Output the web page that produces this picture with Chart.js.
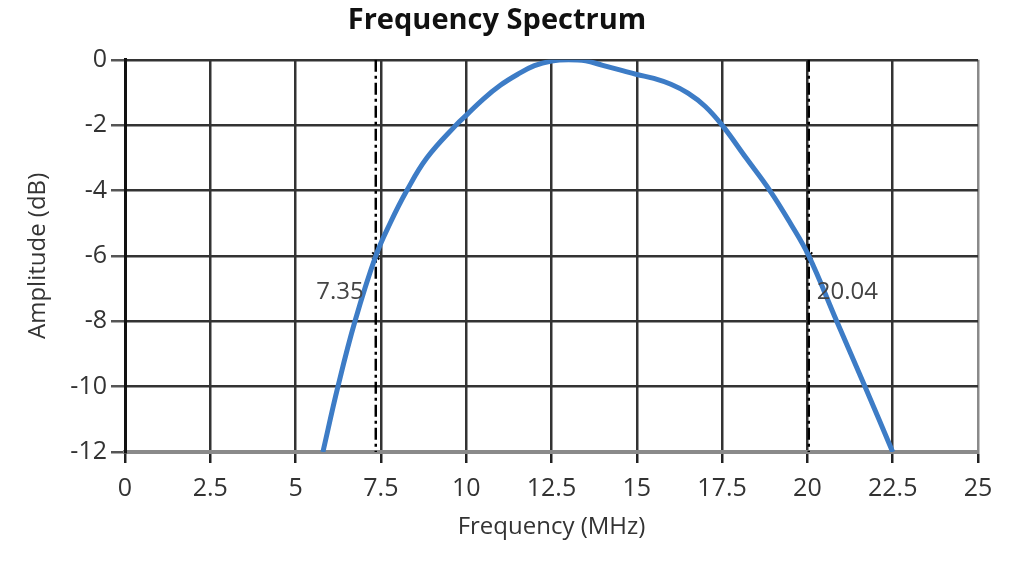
<!DOCTYPE html>
<html>
<head>
<meta charset="utf-8">
<script src="https://cdn.jsdelivr.net/npm/chart.js@4/dist/chart.umd.min.js"></script>
<style>
html,body{margin:0;padding:0;background:#fff;}
#wrap{width:1024px;height:562px;position:relative;}
</style>
</head>
<body>
<div id="wrap"><canvas id="c" width="1024" height="562"></canvas></div>
<script>
// ---- data ----
const chartTitle = 'Frequency Spectrum';
const xTitle = 'Frequency (MHz)';
const yTitle = 'Amplitude (dB)';
const freqMHz = [5.8, 6.24, 6.74, 7.35, 7.77, 8.26, 8.85, 9.7, 10, 10.5, 11, 11.5, 12, 12.5, 13, 13.5, 14, 14.5, 15, 15.5, 16, 16.5, 17, 17.5, 18.2, 18.9, 19.5, 20.04, 20.86, 21.69, 22.5];
const amplitudeDb = [-12, -10, -8, -6, -5, -4, -3, -2, -1.7, -1.2, -0.78, -0.45, -0.18, -0.04, 0, -0.03, -0.17, -0.31, -0.45, -0.57, -0.75, -1.02, -1.42, -2.0, -3.0, -4.0, -5.0, -6, -8, -10, -12];
const cursorFreqs = [7.35, 20.04];
const cursorLevel = -6;
const cursorLabels = ['7.35', '20.04'];
const xMin = 0, xMax = 25, xStep = 2.5;
const yMin = -12, yMax = 0, yStep = 2;

const FONT = "'Open Sans', 'Noto Sans', sans-serif";

const curve = freqMHz.map((f, i) => ({x: f, y: amplitudeDb[i]}));

const datasets = [];
cursorFreqs.forEach(f => {
  datasets.push({
    type: 'scatter', showLine: true,
    data: [{x: f, y: yMax}, {x: f, y: yMin}],
    borderColor: '#000', borderWidth: 2.5, borderDash: [12, 4, 3, 4],
    pointRadius: 0, order: 3
  });
});
datasets.push({
  type: 'scatter', showLine: false,
  data: cursorFreqs.map(f => ({x: f, y: cursorLevel})),
  pointStyle: 'crossRot', pointRadius: 5, borderColor: '#000', borderWidth: 2, order: 2
});
datasets.push({
  type: 'scatter', showLine: true,
  data: curve,
  borderColor: '#3d7cc6', borderWidth: 5, pointRadius: 0,
  tension: 0.4, order: 1
});

const cursorLabelPlugin = {
  id: 'cursorLabels',
  afterDatasetsDraw(chart) {
    const {ctx, scales} = chart;
    ctx.save();
    ctx.font = "24px " + FONT;
    ctx.fillStyle = '#444';
    ctx.textBaseline = 'middle';
    cursorFreqs.forEach((f, i) => {
      const px = scales.x.getPixelForValue(f);
      const py = scales.y.getPixelForValue(cursorLevel);
      if (i === 0) { ctx.textAlign = 'right'; ctx.fillText(cursorLabels[i], px - 12, py + 36); }
      else { ctx.textAlign = 'left'; ctx.fillText(cursorLabels[i], px + 8, py + 36); }
    });
    ctx.restore();
  }
};

new Chart(document.getElementById('c'), {
  type: 'scatter',
  data: {datasets},
  plugins: [cursorLabelPlugin],
  options: {
    responsive: false,
    animation: false,
    layout: {padding: {left: 16, right: 46, top: 0, bottom: 0}},
    plugins: {
      legend: {display: false},
      tooltip: {enabled: false},
      title: {
        display: true, text: chartTitle, color: '#111',
        font: {family: FONT, size: 29, weight: 'bold'},
        padding: {top: 3, bottom: 22}
      }
    },
    scales: {
      x: {
        type: 'linear', min: xMin, max: xMax,
        ticks: {stepSize: xStep, color: '#333', font: {family: FONT, size: 25}, padding: 11, maxRotation: 0},
        grid: {
          color: ctx => ctx.tick && ctx.tick.value === xMax ? '#8a8a8a' : '#333',
          lineWidth: 2.5, tickLength: 11, tickColor: '#222', tickWidth: 2.5
        },
        border: {color: '#8a8a8a', width: 4},
        title: {display: true, text: xTitle, color: '#333', font: {family: FONT, size: 24}, padding: {top: 4, bottom: 20}},
        afterFit: s => { s.height = 110; }
      },
      y: {
        type: 'linear', min: yMin, max: yMax,
        ticks: {stepSize: yStep, color: '#333', font: {family: FONT, size: 25}, padding: 4},
        grid: {
          color: '#333', lineWidth: 2.5, tickLength: 14, tickColor: '#555', tickWidth: 2.5
        },
        border: {color: '#111', width: 3},
        title: {display: true, text: yTitle, color: '#333', font: {family: FONT, size: 24}, padding: {top: 8, bottom: 8}},
        afterFit: s => { s.width = 109; }
      }
    }
  }
});
</script>
</body>
</html>
